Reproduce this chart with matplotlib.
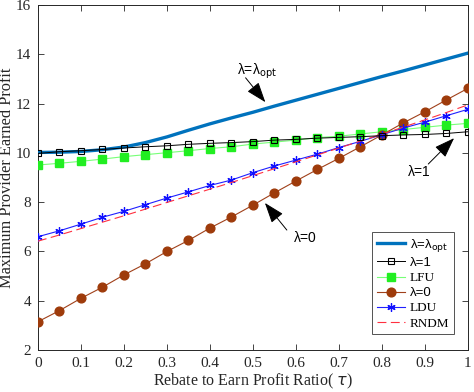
import numpy as np
import matplotlib
matplotlib.use("Agg")
import matplotlib.pyplot as plt

# rebate ratio tau, sampled every 0.05
tau = [0.0, 0.05, 0.1, 0.15, 0.2, 0.25, 0.3, 0.35, 0.4, 0.45, 0.5,
       0.55, 0.6, 0.65, 0.7, 0.75, 0.8, 0.85, 0.9, 0.95, 1.0]

lam_opt = [10.02, 10.03, 10.06, 10.13, 10.24, 10.42, 10.65, 10.92, 11.18, 11.42, 11.65,
           11.90, 12.14, 12.38, 12.62, 12.86, 13.10, 13.33, 13.57, 13.81, 14.05]
lam_one = [9.98, 10.05, 10.09, 10.14, 10.20, 10.25, 10.29, 10.35, 10.39, 10.42, 10.46,
           10.52, 10.55, 10.60, 10.63, 10.66, 10.70, 10.73, 10.75, 10.79, 10.86]
lfu     = [9.51, 9.58, 9.66, 9.75, 9.85, 9.93, 10.01, 10.09, 10.18, 10.25, 10.36,
           10.44, 10.52, 10.62, 10.68, 10.77, 10.86, 10.95, 11.04, 11.13, 11.20]
lam_zero = [3.15, 3.60, 4.10, 4.55, 5.05, 5.50, 6.00, 6.45, 6.95, 7.40, 7.88,
            8.38, 8.86, 9.33, 9.78, 10.25, 10.73, 11.22, 11.67, 12.15, 12.62]
ldu     = [6.60, 6.84, 7.11, 7.39, 7.63, 7.90, 8.17, 8.42, 8.68, 8.90, 9.20,
           9.47, 9.71, 9.95, 10.22, 10.47, 10.74, 11.01, 11.25, 11.51, 11.77]
rndm    = [6.42, 6.67, 6.93, 7.19, 7.45, 7.72, 7.99, 8.26, 8.53, 8.80, 9.08,
           9.36, 9.64, 9.92, 10.20, 10.48, 10.76, 11.05, 11.34, 11.64, 11.95]

x_ticks = [0, 0.1, 0.2, 0.3, 0.4, 0.5, 0.6, 0.7, 0.8, 0.9, 1]
x_tick_labels = ["0", "0.1", "0.2", "0.3", "0.4", "0.5", "0.6", "0.7", "0.8", "0.9", "1"]
y_ticks = [2, 4, 6, 8, 10, 12, 14, 16]

SERIF = ["Liberation Serif", "DejaVu Serif"]
SANS = ["Liberation Sans", "DejaVu Sans"]
AX_COL = "#262626"

fig = plt.figure(figsize=(4.74, 3.92), dpi=100)
ax = fig.add_axes([0.080, 0.107, 0.907, 0.880])

ax.plot(tau, lam_opt, color="#0072BD", lw=2.4, label=r"λ=λ$_{\rm opt}$", zorder=3)
ax.plot(tau, lam_one, color="black", lw=0.7, marker="s", ms=4.8, mfc="none",
        mec="black", mew=0.8, label="λ=1", zorder=4)
ax.plot(tau, lfu, color="#77FF77", lw=0.8, marker="s", ms=5.2, mfc="#22EE22",
        mec="#22EE22", label="LFU", zorder=3)
ax.plot(tau, lam_zero, color="#A0401A", lw=0.8, marker="o", ms=6.3, mfc="#9E3B0B",
        mec="#9E3B0B", label="λ=0", zorder=3)
ax.plot(tau, ldu, color="#2020FF", lw=0.8, marker=(6, 2, 0), ms=6, mec="#1010FF",
        mew=0.9, label="LDU", zorder=3)
ax.plot(tau, rndm, color="#FF3040", lw=0.8, ls=(0, (8, 4)), label="RNDM", zorder=3)

ax.set_xlim(0, 1)
ax.set_ylim(2, 16)
ax.set_xticks(x_ticks)
ax.set_xticklabels(x_tick_labels)
ax.set_yticks(y_ticks)
ax.tick_params(direction="in", top=True, right=True, length=4, width=0.6,
               colors=AX_COL, labelsize=11, pad=5)
for lab in ax.get_xticklabels() + ax.get_yticklabels():
    lab.set_fontfamily(SERIF)
for sp in ax.spines.values():
    sp.set_color(AX_COL)
    sp.set_linewidth(0.7)

ax.set_xlabel(r"Rebate to Earn Profit Ratio( $\tau$)", family=SERIF, fontsize=11.5,
              color=AX_COL)
ax.set_ylabel("Maximum Provider Earned Profit", family=SERIF, fontsize=11.8,
              color=AX_COL)
ax.xaxis.set_label_coords(0.5, -0.063)
ax.yaxis.set_label_coords(-0.053, 0.5)

# annotations: arrows and their labels
arrow = dict(arrowstyle="-|>,head_length=0.7,head_width=0.25", color="black",
             lw=0.7, mutation_scale=18, shrinkA=0, shrinkB=0)
ax.annotate("", xy=(0.529, 12.06), xytext=(0.483, 13.05), arrowprops=arrow)
ax.text(0.463, 13.3, r"λ=λ$_{\rm opt}$", fontsize=10, family=SANS, ha="left", va="center")
ax.annotate("", xy=(0.968, 10.6), xytext=(0.908, 9.55), arrowprops=arrow)
ax.text(0.886, 9.22, "λ=1", fontsize=10, family=SANS, ha="center", va="center")
ax.annotate("", xy=(0.528, 7.97), xytext=(0.579, 6.87), arrowprops=arrow)
ax.text(0.621, 6.55, "λ=0", fontsize=10, family=SANS, ha="center", va="center")

leg = ax.legend(loc="lower right", bbox_to_anchor=(0.968, 0.046), borderaxespad=0,
                frameon=True, fancybox=False, edgecolor=AX_COL, borderpad=0.35,
                labelspacing=0.22, handlelength=2.1, handletextpad=0.4,
                prop={"family": SERIF, "size": 9.5})
leg.get_frame().set_linewidth(0.7)
for t in leg.get_texts():
    if "λ" in t.get_text():
        t.set_fontfamily(SANS)

fig.savefig("out.png", dpi=100, facecolor="white")
